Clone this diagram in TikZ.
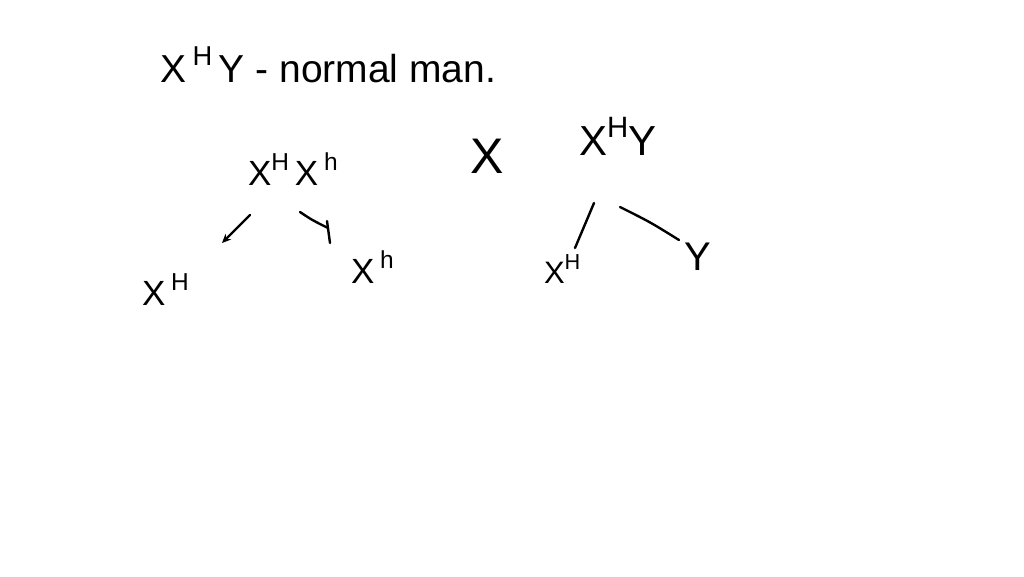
\documentclass[tikz,border=0pt]{standalone}
\usepackage{fontspec}
\setmainfont{Liberation Sans}
\usetikzlibrary{arrows.meta}
\newcommand\hsup[1]{\raisebox{0.42em}{\scalebox{0.7}{#1}}}
\tikzset{
  hand/.style={inner sep=0pt, outer sep=0pt, anchor=base west, text=black},
  pen/.style={line width=2.4pt, line cap=round, line join=round, black},
}
\begin{document}
\begin{tikzpicture}[x=1pt,y=-1pt]
\useasboundingbox[fill=white] (0,0) rectangle (1024,576);
% title
\node[hand, font=\fontsize{39}{45}\selectfont] (title) at (160,82) {X\,\hsup{H}\,Y - normal man.};
% left cross
\node[hand, font=\fontsize{35}{41}\selectfont] (mother) at (248,185) {X\hsup{H}\,X\,\hsup{h}};
\node[hand, font=\fontsize{50}{56}\selectfont] (cross) at (470,173) {X};
\node[hand, font=\fontsize{42}{48}\selectfont] (father) at (579,155) {X\hsup{H}Y};
% gametes
\node[hand, font=\fontsize{35}{41}\selectfont] (gXH) at (142,305) {X\,\hsup{H}};
\node[hand, font=\fontsize{35}{41}\selectfont] (gXh) at (351,283) {X\,\hsup{h}};
\node[hand, font=\fontsize{31}{37}\selectfont] (gXH2) at (544,283) {X\hsup{H}};
\node[hand, font=\fontsize{40}{46}\selectfont] (gY) at (684,270) {Y};
% connectors
\coordinate (m1) at (250,215);
\coordinate (m2) at (222,243);
\coordinate (m3) at (300,212);
\coordinate (m4) at (328,228);
\coordinate (m5) at (327,221);
\coordinate (m6) at (330,243);
\coordinate (f1) at (594,203);
\coordinate (f2) at (575,248);
\coordinate (f3) at (620,207);
\coordinate (f4) at (679,240);
\draw[pen, -{Stealth[length=9pt,width=8pt]}] (m1) -- (m2);
\draw[pen] (m3) .. controls (312,220) .. (m4);
\draw[pen] (m5) -- (m6);
\draw[pen] (f1) -- (f2);
\draw[pen] (f3) .. controls (650,222) .. (f4);
\end{tikzpicture}
\end{document}
